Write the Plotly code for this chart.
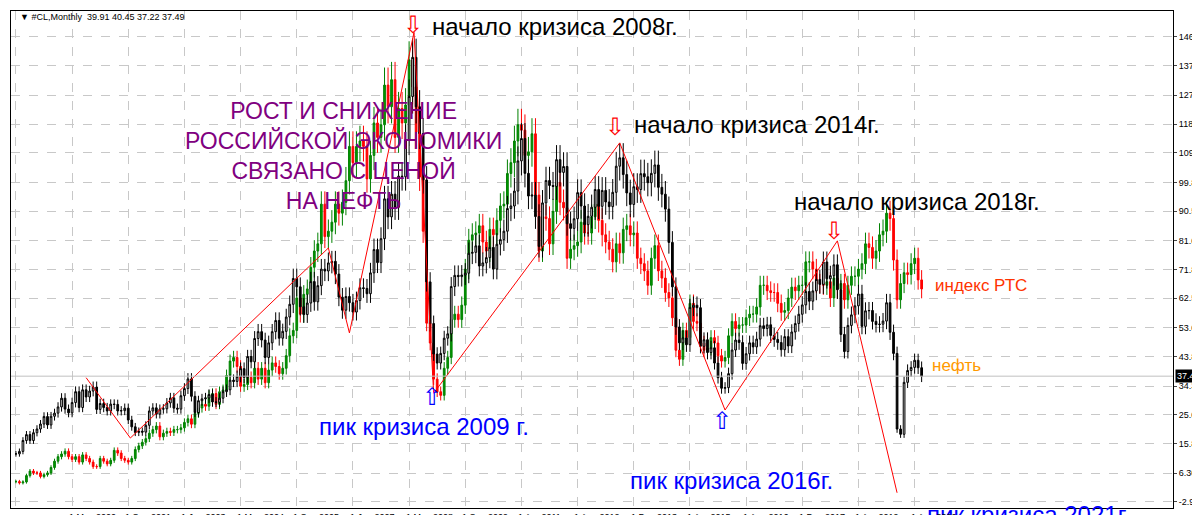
import plotly.graph_objects as go

# WTI monthly closes (USD), Jan 1999 .. Oct 2020 (three 2010 months absent in source feed)
oil_close = [
 12.5,13.3,16.8,18.7,16.8,19.3,20.5,22.1,24.5,21.8,24.6,25.6,
 27.6,30.4,26.9,25.7,29.0,32.5,27.4,33.1,30.8,32.7,34.0,26.8,
 28.7,27.4,26.3,28.5,28.4,26.3,26.4,27.2,23.4,21.2,19.4,19.8,
 19.5,21.7,26.3,27.3,25.3,26.9,27.0,28.9,30.5,27.2,26.9,31.2,
 33.5,36.6,31.0,25.8,29.6,30.2,30.5,31.6,29.2,29.1,30.4,32.5,
 33.1,36.2,35.8,37.4,39.9,37.1,43.8,42.1,49.6,51.8,49.1,43.5,
 48.2,51.8,55.4,49.7,51.9,56.5,60.6,68.9,66.2,59.8,57.3,61.0,
 67.9,61.4,66.6,71.9,71.3,73.9,74.4,70.3,62.9,58.7,63.1,61.1,
 58.1,61.8,65.9,65.7,64.0,70.7,78.2,74.0,81.7,94.5,88.7,96.0,
 91.8,101.8,101.6,113.5,127.4,140.0,124.1,115.5,100.6,67.8,54.4,44.6,
 41.7,44.8,49.7,51.1,66.3,69.9,69.5,70.0,70.6,77.0,77.3,79.4,
 72.9,73.9,75.6,78.9,71.9,79.9,81.4,84.1,91.4,
 92.2,97.0,106.7,113.9,102.7,95.4,95.7,88.8,79.2,93.2,100.4,98.8,
 98.5,107.1,103.0,104.9,86.5,85.0,88.1,96.5,92.2,86.2,88.9,91.8,
 97.5,92.1,97.2,93.5,92.0,96.6,105.0,107.7,102.3,96.4,92.7,98.4,
 97.5,102.6,101.6,99.7,102.7,105.4,98.2,96.0,91.2,80.5,66.2,53.3,
 48.2,49.8,47.6,59.6,60.3,59.5,47.1,49.2,45.1,46.6,41.7,37.0,
 33.6,33.8,38.3,45.9,49.1,48.3,41.6,44.7,48.2,46.9,49.4,53.7,
 52.8,54.0,50.6,49.3,48.3,46.0,50.2,47.2,51.7,54.4,57.4,60.4,
 64.7,61.6,64.9,68.6,67.0,74.2,68.8,69.8,73.3,65.3,50.9,45.4,
 53.8,57.2,60.1,63.9,53.5,58.5,58.6,55.1,54.1,54.2,55.2,61.1,
 51.6,44.8,20.5,18.8,35.5,39.3,40.3,42.6,40.2,37.49]

# RTS index monthly closes (points)
rts_close = [
 62,55,60,95,120,110,110,90,100,110,140,175,
 200,215,230,200,185,200,170,210,190,170,145,145,
 190,175,160,180,235,220,190,180,170,190,240,260,
 280,300,330,350,370,310,330,340,335,350,350,360,
 390,410,380,440,470,490,480,540,550,490,560,570,
 650,730,750,700,590,600,640,610,690,630,690,610,
 680,720,700,660,690,760,870,900,1080,990,1100,1130,
 1250,1340,1380,1600,1420,1450,1500,1600,1550,1610,1730,1920,
 1830,1920,1950,1920,1740,1870,2050,1970,2040,2260,2140,2290,
 1970,2130,2050,2150,2400,2250,2000,1750,1450,940,830,630,
 560,540,690,750,960,990,960,1040,1240,1400,1430,1440,
 1480,1390,1340,1460,1430,1510,1590,1600,1770,
 1830,1950,2040,2010,1870,1890,1990,1650,1340,1530,1520,1380,
 1560,1720,1610,1580,1300,1350,1370,1390,1500,1440,1440,1530,
 1600,1510,1430,1390,1350,1280,1380,1330,1460,1480,1430,1440,
 1300,1270,1230,1150,1300,1370,1230,1190,1110,1080,970,790,
 740,900,860,1050,950,940,830,790,800,860,830,760,
 730,750,870,950,910,930,930,970,990,990,1030,1150,
 1150,1120,1110,1110,1050,1000,1010,1080,1140,1120,1150,1150,
 1280,1280,1240,1160,1160,1150,1170,1080,1190,1130,1160,1070,
 1150,1200,1200,1240,1270,1380,1360,1300,1340,1430,1450,1550,
 1520,1290,1070,1160,1220,1210,1270,1300,1180,1130]
rts_scale = 0.058

date_labels = ["1 Jan 1999","1 May 2000","1 Sep 2001","1 Jan 2003","1 May 2004","1 Sep 2005",
               "1 Jan 2007","1 May 2008","1 Sep 2009","1 Apr 2011","1 Aug 2012","1 Dec 2013",
               "1 Apr 2015","1 Aug 2016","1 Dec 2017","1 Apr 2019","1 Aug 2020"]
date_idx = [16*i for i in range(len(date_labels))]
price_ticks = [146.55,137.30,127.80,118.55,109.30,99.80,90.55,81.05,71.80,62.55,53.05,
               43.80,34.30,25.05,15.80,6.30,-2.95]

zig_idx = [20,32.6,89,95,113.4,119,172,202,234,251]
zig_val = [37,17.6,78.7,51.4,148,32,112.5,26.6,81,0]

def ohlc(closes, scale=1.0):
    c = [v*scale for v in closes]
    o = [c[0]] + c[:-1]
    h = [max(a, b)*1.04 + 0.4 for a, b in zip(o, c)]
    l = [min(a, b)*0.96 - 0.4 for a, b in zip(o, c)]
    return o, h, l, c

fig = go.Figure()
ro, rh, rl, rc = ohlc(rts_close, rts_scale)
oo, oh, ol, oc = ohlc(oil_close)
xs = list(range(len(oil_close)))
fig.add_trace(go.Candlestick(x=xs, open=ro, high=rh, low=rl, close=rc, whiskerwidth=0,
    increasing=dict(line=dict(color="#008000", width=1), fillcolor="#009900"),
    decreasing=dict(line=dict(color="#ff0000", width=1), fillcolor="#ff0000"),
    hoverinfo="skip", showlegend=False))
fig.add_trace(go.Candlestick(x=xs, open=oo, high=oh, low=ol, close=oc, whiskerwidth=0,
    increasing=dict(line=dict(color="#000000", width=1), fillcolor="#d0d0d0"),
    decreasing=dict(line=dict(color="#000000", width=1), fillcolor="#000000"),
    hoverinfo="skip", showlegend=False))
fig.add_trace(go.Scatter(x=zig_idx, y=zig_val, mode="lines",
    line=dict(color="#ff0000", width=1), hoverinfo="skip", showlegend=False))
fig.add_hline(y=oil_close[-1], line=dict(color="#c0c0c0", width=1))

W, H = 1200, 515
L, R, T, B = 3, 35, 3, 15
pw, ph = W - L - R, H - T - B
def px(x): return (x - L) / pw
def py(y): return (H - B - y) / ph

ann = []
def txt(x, y, s, size, color, xa="left"):
    ann.append(dict(x=px(x), y=py(y), xref="paper", yref="paper", text=s, showarrow=False,
                    xanchor=xa, yanchor="middle", font=dict(size=size, color=color, family="Arial")))

ann.append(dict(x=px(175), y=py(88), xref="paper", yref="paper", showarrow=False,
    text="РОСТ И СНИЖЕНИЕ<br>РОССИЙСКОЙ ЭКОНОМИКИ<br>СВЯЗАНО С ЦЕНОЙ<br>НА НЕФТЬ",
    align="center", font=dict(size=23, color="#800080", family="Arial")))
txt(422, 19, "начало кризиса 2008г.", 24, "black")
txt(624, 116, "начало кризиса 2014г.", 24, "black")
txt(784, 194, "начало кризиса 2018г.", 24, "black")
txt(925, 277, "индекс РТС", 17, "#ff3300")
txt(922, 357, "нефть", 17, "#ff9900")
txt(309, 419, "пик кризиса 2009 г.", 24, "#0000ff")
txt(620, 472, "пик кризиса 2016г.", 24, "#0000ff")
txt(917, 506, "пик кризиса 2021г.", 24, "#0000ff")
for (x, y) in [(405, 17), (607, 119), (826, 222)]:
    txt(x, y, "⇩", 24, "#ff0000", "center")
for (x, y) in [(424, 388), (714, 412)]:
    txt(x, y, "⇧", 24, "#0000ff", "center")
txt(10, 9, "▼ #CL,Monthly  39.91 40.45 37.22 37.49", 9, "black")
for i, lab in zip(date_idx, date_labels):
    ann.append(dict(x=i - 1.5, y=-0.005, xref="x", yref="paper", text=lab, showarrow=False,
                    xanchor="left", yanchor="top", font=dict(size=9, color="black", family="Arial")))
ann.append(dict(x=1.002, y=oil_close[-1], xref="paper", yref="y", text="37.49", showarrow=False,
                xanchor="left", bgcolor="black", font=dict(size=9, color="white", family="Arial")))

fig.update_layout(
    width=W, height=H, margin=dict(l=L, r=R, t=T, b=B, autoexpand=False),
    paper_bgcolor="white", plot_bgcolor="white", annotations=ann,
    xaxis=dict(range=[-1.4, 329.6], tickvals=date_idx, showticklabels=False, automargin=False,
               showgrid=True, gridcolor="#c8c8c8", griddash="dash", zeroline=False,
               showline=True, linecolor="black", mirror=True, rangeslider=dict(visible=False)),
    yaxis=dict(side="right", range=[-4.9, 154.9], tickvals=price_ticks, automargin=False,
               ticktext=[f"{v:.2f}" for v in price_ticks], tickfont=dict(size=9, color="black", family="Arial"),
               ticks="outside", ticklen=3, showgrid=True, gridcolor="#c8c8c8", griddash="dash",
               zeroline=False, showline=True, linecolor="black", mirror=True),
)
fig.write_html("out.html")
